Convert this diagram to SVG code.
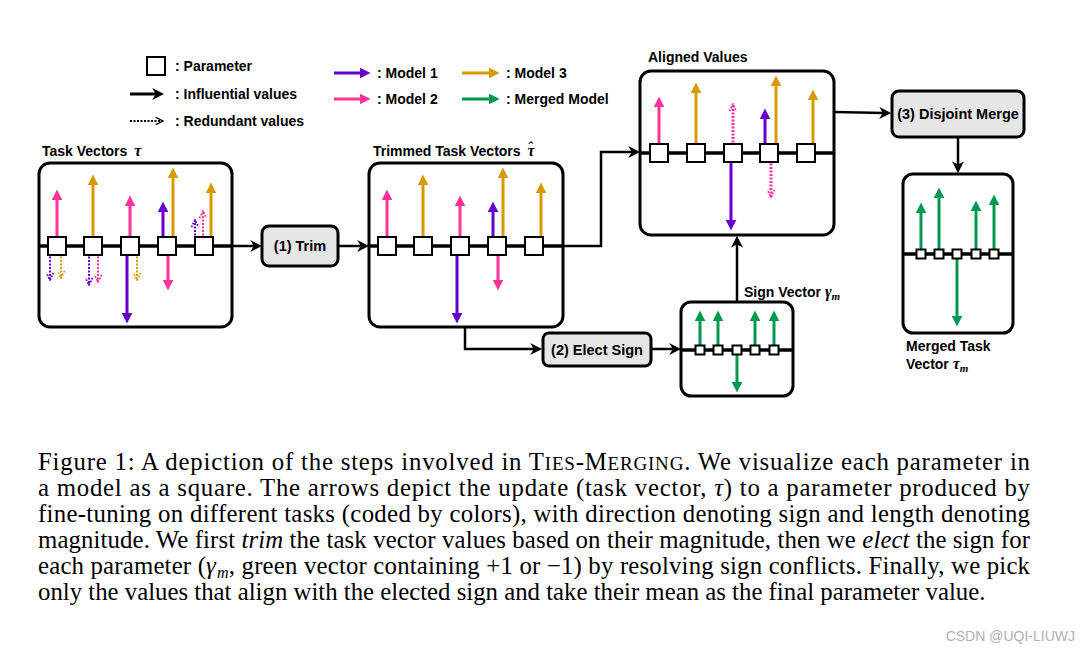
<svg xmlns="http://www.w3.org/2000/svg" width="1083" height="652" viewBox="0 0 1083 652">
<style>
.box{fill:#fff;stroke:#000;stroke-width:3}
.pbox{fill:#e6e6e6;stroke:#000;stroke-width:3}
.ax{stroke:#000;stroke-width:3.5}
.sq{fill:#fff;stroke:#000;stroke-width:2}
.t{font-family:"Liberation Sans",Arial,sans-serif;font-weight:bold;font-size:14px;fill:#000}
.pl{font-family:"Liberation Sans",Arial,sans-serif;font-weight:bold;font-size:14.5px;fill:#000}
.m{font-family:"Liberation Serif","Times New Roman",serif;font-style:italic;font-size:16px}
.cap{font-family:"Liberation Serif","Times New Roman",serif;font-size:24.8px;fill:#000}
.a{stroke-width:3;fill:none}
.d{stroke-width:2;fill:none;stroke-dasharray:2 1.5}
.pu{stroke:#6600cc}.pk{stroke:#ff3399}.go{stroke:#d79b00}.gr{stroke:#00994d}.bk{stroke:#000}
.c{stroke:#000;stroke-width:2.5;fill:none}
</style>
<defs>
<marker id="hpu" viewBox="0 0 10 10" refX="4" refY="5" markerWidth="11" markerHeight="11" markerUnits="userSpaceOnUse" orient="auto"><path d="M0,0L10,5L0,10z" fill="#6600cc"/></marker>
<marker id="hpk" viewBox="0 0 10 10" refX="4" refY="5" markerWidth="11" markerHeight="11" markerUnits="userSpaceOnUse" orient="auto"><path d="M0,0L10,5L0,10z" fill="#ff3399"/></marker>
<marker id="hgo" viewBox="0 0 10 10" refX="4" refY="5" markerWidth="11" markerHeight="11" markerUnits="userSpaceOnUse" orient="auto"><path d="M0,0L10,5L0,10z" fill="#d79b00"/></marker>
<marker id="hgr" viewBox="0 0 10 10" refX="4" refY="5" markerWidth="11" markerHeight="11" markerUnits="userSpaceOnUse" orient="auto"><path d="M0,0L10,5L0,10z" fill="#00994d"/></marker>
<marker id="hbk" viewBox="0 0 10 10" refX="4" refY="5" markerWidth="12" markerHeight="12" markerUnits="userSpaceOnUse" orient="auto"><path d="M0,0L10,5L0,10L3,5z" fill="#000"/></marker>
<marker id="dpu" viewBox="0 0 10 10" refX="9" refY="5" markerWidth="9" markerHeight="9" markerUnits="userSpaceOnUse" orient="auto"><path d="M1,1L9,5L1,9" fill="none" stroke="#6600cc" stroke-width="2" stroke-dasharray="2 1.5"/></marker>
<marker id="dpk" viewBox="0 0 10 10" refX="9" refY="5" markerWidth="9" markerHeight="9" markerUnits="userSpaceOnUse" orient="auto"><path d="M1,1L9,5L1,9" fill="none" stroke="#ff3399" stroke-width="2" stroke-dasharray="2 1.5"/></marker>
<marker id="dgo" viewBox="0 0 10 10" refX="9" refY="5" markerWidth="9" markerHeight="9" markerUnits="userSpaceOnUse" orient="auto"><path d="M1,1L9,5L1,9" fill="none" stroke="#d79b00" stroke-width="2" stroke-dasharray="2 1.5"/></marker>
<marker id="dbk" viewBox="0 0 10 10" refX="9" refY="5" markerWidth="9" markerHeight="9" markerUnits="userSpaceOnUse" orient="auto"><path d="M1,1L9,5L1,9" fill="none" stroke="#000" stroke-width="1.5"/></marker>
</defs>
<rect width="1083" height="652" fill="#fff"/>

<g id="legend">
<rect x="147" y="57" width="18" height="18" fill="#fff" stroke="#000" stroke-width="2"/>
<text class="t" x="175" y="71">: Parameter</text>
<line x1="130" y1="94" x2="157" y2="94" class="a bk" marker-end="url(#hbk)"/>
<text class="t" x="175" y="99">: Influential values</text>
<line x1="130" y1="121" x2="163" y2="121" class="d bk" marker-end="url(#dbk)"/>
<text class="t" x="175" y="126">: Redundant values</text>
<line x1="334" y1="73" x2="364" y2="73" class="a pu" marker-end="url(#hpu)"/>
<text class="t" x="377" y="78">: Model 1</text>
<line x1="334" y1="99" x2="364" y2="99" class="a pk" marker-end="url(#hpk)"/>
<text class="t" x="377" y="104">: Model 2</text>
<line x1="462" y1="73" x2="493" y2="73" class="a go" marker-end="url(#hgo)"/>
<text class="t" x="506" y="78">: Model 3</text>
<line x1="462" y1="99" x2="493" y2="99" class="a gr" marker-end="url(#hgr)"/>
<text class="t" x="506" y="104">: Merged Model</text>
</g>

<g id="task-vectors">
<text class="t" x="42" y="156">Task Vectors <tspan class="m" dx="3">τ</tspan></text>
<rect class="box" x="39" y="163" width="193" height="164" rx="11"/>
<line class="a pk" x1="57" y1="246" x2="57" y2="196" marker-end="url(#hpk)"/>
<line class="d pu" x1="50" y1="246" x2="50" y2="280" marker-end="url(#dpu)"/>
<line class="d go" x1="61" y1="246" x2="61" y2="278" marker-end="url(#dgo)"/>
<line class="a go" x1="93" y1="246" x2="93" y2="181" marker-end="url(#hgo)"/>
<line class="d pu" x1="89" y1="246" x2="89" y2="285" marker-end="url(#dpu)"/>
<line class="d pk" x1="98" y1="246" x2="98" y2="282" marker-end="url(#dpk)"/>
<line class="a pk" x1="130" y1="246" x2="130" y2="202" marker-end="url(#hpk)"/>
<line class="a pu" x1="127" y1="246" x2="127" y2="317" marker-end="url(#hpu)"/>
<line class="d go" x1="137" y1="246" x2="137" y2="280" marker-end="url(#dgo)"/>
<line class="a pu" x1="163" y1="246" x2="163" y2="208" marker-end="url(#hpu)"/>
<line class="a go" x1="173" y1="246" x2="173" y2="174" marker-end="url(#hgo)"/>
<line class="a pk" x1="168" y1="246" x2="168" y2="284" marker-end="url(#hpk)"/>
<line class="d pu" x1="195" y1="246" x2="195" y2="220" marker-end="url(#dpu)"/>
<line class="d pk" x1="203" y1="246" x2="203" y2="211" marker-end="url(#dpk)"/>
<line class="a go" x1="211" y1="246" x2="211" y2="189" marker-end="url(#hgo)"/>
<line class="ax" x1="39" y1="246" x2="232" y2="246"/>
<rect class="sq" x="48" y="237" width="18" height="18"/>
<rect class="sq" x="84" y="237" width="18" height="18"/>
<rect class="sq" x="121" y="237" width="18" height="18"/>
<rect class="sq" x="158" y="237" width="18" height="18"/>
<rect class="sq" x="195" y="237" width="18" height="18"/>
</g>

<g id="trim"><rect class="pbox" x="262" y="226" width="76" height="40" rx="7"/><text class="pl" x="300" y="251" text-anchor="middle">(1) Trim</text></g>

<g id="trimmed">
<text class="t" x="373" y="156">Trimmed Task Vectors <tspan class="m" dx="3">τ</tspan></text>
<text class="m" x="527" y="153">ˆ</text>
<rect class="box" x="369" y="163" width="194" height="164" rx="11"/>
<line class="a pk" x1="387" y1="246" x2="387" y2="196" marker-end="url(#hpk)"/>
<line class="a go" x1="423" y1="246" x2="423" y2="181" marker-end="url(#hgo)"/>
<line class="a pk" x1="460" y1="246" x2="460" y2="202" marker-end="url(#hpk)"/>
<line class="a pu" x1="457" y1="246" x2="457" y2="317" marker-end="url(#hpu)"/>
<line class="a pu" x1="493" y1="246" x2="493" y2="208" marker-end="url(#hpu)"/>
<line class="a go" x1="503" y1="246" x2="503" y2="174" marker-end="url(#hgo)"/>
<line class="a pk" x1="498" y1="246" x2="498" y2="284" marker-end="url(#hpk)"/>
<line class="a go" x1="541" y1="246" x2="541" y2="189" marker-end="url(#hgo)"/>
<line class="ax" x1="369" y1="246" x2="563" y2="246"/>
<rect class="sq" x="378" y="237" width="18" height="18"/>
<rect class="sq" x="414" y="237" width="18" height="18"/>
<rect class="sq" x="451" y="237" width="18" height="18"/>
<rect class="sq" x="488" y="237" width="18" height="18"/>
<rect class="sq" x="525" y="237" width="18" height="18"/>
</g>

<g id="aligned">
<text class="t" x="648" y="62">Aligned Values</text>
<rect class="box" x="640" y="71" width="194" height="164" rx="11"/>
<line class="a pk" x1="659" y1="153" x2="659" y2="103" marker-end="url(#hpk)"/>
<line class="a go" x1="696" y1="153" x2="696" y2="89" marker-end="url(#hgo)"/>
<line class="d pk" x1="733" y1="153" x2="733" y2="104" marker-end="url(#dpk)" style="stroke-width:3"/>
<line class="a pu" x1="731" y1="153" x2="731" y2="224" marker-end="url(#hpu)"/>
<line class="a pu" x1="765" y1="153" x2="765" y2="115" marker-end="url(#hpu)"/>
<line class="a go" x1="776" y1="153" x2="776" y2="82" marker-end="url(#hgo)"/>
<line class="d pk" x1="771" y1="153" x2="771" y2="197" marker-end="url(#dpk)" style="stroke-width:3"/>
<line class="a go" x1="813" y1="153" x2="813" y2="96" marker-end="url(#hgo)"/>
<line class="ax" x1="640" y1="153" x2="834" y2="153"/>
<rect class="sq" x="650" y="144" width="18" height="18"/>
<rect class="sq" x="687" y="144" width="18" height="18"/>
<rect class="sq" x="724" y="144" width="18" height="18"/>
<rect class="sq" x="760" y="144" width="18" height="18"/>
<rect class="sq" x="797" y="144" width="18" height="18"/>
</g>

<g id="disjoint-merge"><rect class="pbox" x="892" y="91" width="132" height="46" rx="7"/><text class="pl" x="958" y="119" text-anchor="middle">(3) Disjoint Merge</text></g>

<g id="merged">
<rect class="box" x="903" y="174" width="110" height="159" rx="10"/>
<line class="a gr" x1="921" y1="254" x2="921" y2="209" marker-end="url(#hgr)"/>
<line class="a gr" x1="939" y1="254" x2="939" y2="194" marker-end="url(#hgr)"/>
<line class="a gr" x1="957" y1="254" x2="957" y2="320" marker-end="url(#hgr)"/>
<line class="a gr" x1="976" y1="254" x2="976" y2="207" marker-end="url(#hgr)"/>
<line class="a gr" x1="994" y1="254" x2="994" y2="201" marker-end="url(#hgr)"/>
<line class="ax" x1="903" y1="254" x2="1013" y2="254"/>
<rect class="sq" x="916.5" y="249.5" width="9" height="9"/>
<rect class="sq" x="934.5" y="249.5" width="9" height="9"/>
<rect class="sq" x="952.5" y="249.5" width="9" height="9"/>
<rect class="sq" x="971.5" y="249.5" width="9" height="9"/>
<rect class="sq" x="989.5" y="249.5" width="9" height="9"/>
<text class="t" x="906" y="351">Merged Task</text>
<text class="t" x="906" y="369">Vector <tspan class="m">τ<tspan font-size="11" dy="3">m</tspan></tspan></text>
</g>

<g id="elect-sign"><rect class="pbox" x="543" y="333" width="108" height="33" rx="6"/><text class="pl" x="597" y="355" text-anchor="middle">(2) Elect Sign</text></g>

<g id="sign-vector">
<text class="t" x="744" y="297">Sign Vector <tspan class="m">γ<tspan font-size="11" dy="3">m</tspan></tspan></text>
<rect class="box" x="681" y="302" width="112" height="94" rx="10"/>
<line class="a gr" x1="700" y1="350" x2="700" y2="317" marker-end="url(#hgr)"/>
<line class="a gr" x1="718" y1="350" x2="718" y2="317" marker-end="url(#hgr)"/>
<line class="a gr" x1="737" y1="350" x2="737" y2="386" marker-end="url(#hgr)"/>
<line class="a gr" x1="755" y1="350" x2="755" y2="317" marker-end="url(#hgr)"/>
<line class="a gr" x1="774" y1="350" x2="774" y2="317" marker-end="url(#hgr)"/>
<line class="ax" x1="681" y1="350" x2="793" y2="350"/>
<rect class="sq" x="695.5" y="345.5" width="9" height="9"/>
<rect class="sq" x="713.5" y="345.5" width="9" height="9"/>
<rect class="sq" x="732.5" y="345.5" width="9" height="9"/>
<rect class="sq" x="750.5" y="345.5" width="9" height="9"/>
<rect class="sq" x="769.5" y="345.5" width="9" height="9"/>
</g>

<g id="connectors">
<line class="c" x1="232" y1="246" x2="255" y2="246" marker-end="url(#hbk)"/>
<line class="c" x1="338" y1="246" x2="362" y2="246" marker-end="url(#hbk)"/>
<polyline class="c" points="563,246 601,246 601,152 633,152" marker-end="url(#hbk)"/>
<polyline class="c" points="465,327 465,349 535,349" marker-end="url(#hbk)"/>
<line class="c" x1="651" y1="349" x2="674" y2="349" marker-end="url(#hbk)"/>
<line class="c" x1="737" y1="302" x2="737" y2="243" marker-end="url(#hbk)"/>
<line class="c" x1="834" y1="112" x2="884" y2="113" marker-end="url(#hbk)"/>
<line class="c" x1="958" y1="137" x2="958" y2="166" marker-end="url(#hbk)"/>
</g>

<g id="caption">
<text class="cap" x="38" y="470" textLength="992" lengthAdjust="spacing">Figure 1:  A depiction of the steps involved in T<tspan font-size="19">IES</tspan>-M<tspan font-size="19">ERGING</tspan>. We visualize each parameter in</text>
<text class="cap" x="38" y="496" textLength="992" lengthAdjust="spacing">a model as a square.  The arrows depict the update (task vector, <tspan font-style="italic">τ</tspan>) to a parameter produced by</text>
<text class="cap" x="38" y="522" textLength="992" lengthAdjust="spacing">fine-tuning on different tasks (coded by colors), with direction denoting sign and length denoting</text>
<text class="cap" x="38" y="548" textLength="992" lengthAdjust="spacing">magnitude. We first <tspan font-style="italic">trim</tspan> the task vector values based on their magnitude, then we <tspan font-style="italic">elect</tspan> the sign for</text>
<text class="cap" x="38" y="574" textLength="992" lengthAdjust="spacing">each parameter (<tspan font-style="italic">γ</tspan><tspan font-size="16" font-style="italic" dy="4" dx="1">m</tspan><tspan dy="-4">, green vector containing +1 or −1) by resolving sign conflicts. Finally, we pick</tspan></text>
<text class="cap" x="38" y="600">only the values that align with the elected sign and take their mean as the final parameter value.</text>
</g>
<text x="1075" y="641" text-anchor="end" font-family="'Liberation Sans',Arial,sans-serif" font-size="14" fill="#b0b0b0">CSDN @UQI-LIUWJ</text>
</svg>
